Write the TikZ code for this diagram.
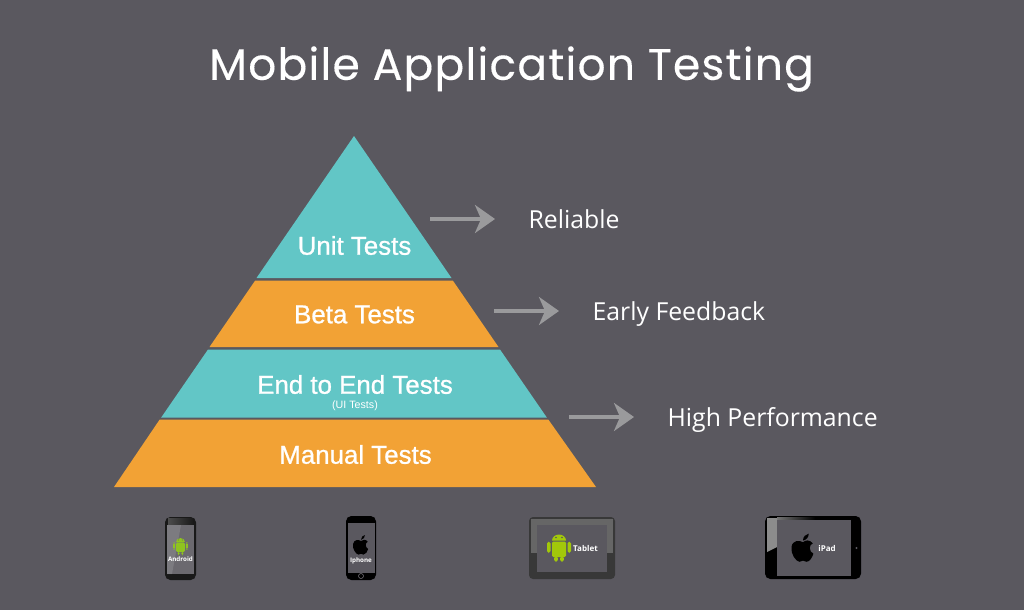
\documentclass[tikz,border=0pt]{standalone}
\usepackage{fontspec}
\setmainfont{Liberation Sans}
\newfontfamily\titlefont[LetterSpace=2.7,FakeBold=0.25]{Poppins}
\newfontfamily\notefont{Open Sans}
\newfontfamily\bandfont[FakeBold=0.9]{Liberation Sans}
\usetikzlibrary{positioning,arrows.meta}

\definecolor{slate}{HTML}{5A585F}
\definecolor{tealband}{HTML}{62C6C6}
\definecolor{orangeband}{HTML}{F2A235}
\definecolor{arrowgray}{HTML}{9A9A9C}
\definecolor{botgreen}{HTML}{8FC31F}
\definecolor{limegreen}{HTML}{A2C80A}

\begin{document}
\begin{tikzpicture}[
    x=0.75pt,
    y=-0.75pt,
    >={Stealth[length=15pt,width=21pt,inset=4.5pt]}
]


\tikzstyle{band}=[text=white, font=\bandfont\fontsize{19.4}{19.4}\selectfont, inner sep=0pt]
\tikzstyle{note}=[text=white, font=\notefont\fontsize{18.6}{18.6}\selectfont, inner sep=0pt, anchor=base west, yshift=-7.4pt]
\tikzstyle{gain}=[->, draw=arrowgray, line width=3.5pt]
\tikzstyle{devlabel}=[text=white, font=\notefont\bfseries\fontsize{4.7}{4.7}\selectfont, inner sep=0pt]
\tikzstyle{padlabel}=[text=white, font=\notefont\bfseries\fontsize{6}{6}\selectfont, inner sep=0pt]

\tikzset{
    androidbot/.pic={
        \fill[pic actions] (-7,-7.5) .. controls (-7,-11) and (-3.5,-13.5) .. (0,-13.5)
            .. controls (3.5,-13.5) and (7,-11) .. (7,-7.5) -- cycle;
        \fill[pic actions, rounded corners=1] (-7,-6.5) rectangle (7,9);
        \fill[pic actions, rounded corners=1.4] (-12,-6.5) rectangle (-8.5,5);
        \fill[pic actions, rounded corners=1.4] (8.5,-6.5) rectangle (12,5);
        \fill[pic actions, rounded corners=1.4] (-4.8,8) rectangle (-1.2,14);
        \fill[pic actions, rounded corners=1.4] (1.2,8) rectangle (4.8,14);
        \fill[slate] (-3,-10.5) circle (0.8) (3,-10.5) circle (0.8);
    },
    applelogo/.pic={
        \fill[black] (0,-5) .. controls (-3,-7) and (-9,-7) .. (-10,-1)
            .. controls (-11,5) and (-6,12) .. (-3,12)
            .. controls (-1.5,12) and (-1,11) .. (0,11)
            .. controls (1,11) and (1.5,12) .. (3,12)
            .. controls (6,12) and (8,8) .. (9,5)
            .. controls (5,3) and (5,-3) .. (8.5,-4)
            .. controls (6,-7.5) and (2,-7) .. (0,-5) -- cycle;
        \fill[black] (0,-6.5) .. controls (0,-10) and (2.5,-12) .. (5,-12.5)
            .. controls (5,-9.5) and (3,-7) .. (0,-6.5) -- cycle;
    }
}

\fill[slate] (0,0) rectangle (1024,610);
\useasboundingbox (0,0) rectangle (1024,610);

\node[text=white, font=\titlefont\fontsize{33}{33}\selectfont, inner sep=0pt] (title) at (511.5,69) {Mobile Application Testing};


\fill[tealband] (354,136) -- (451.5,278) -- (256.5,278) -- cycle;
\fill[orangeband] (452.8,280.5) -- (498.5,347) -- (209.5,347) -- (255.2,280.5) -- cycle;
\fill[tealband] (500,349.5) -- (546.8,417.5) -- (161.2,417.5) -- (208,349.5) -- cycle;
\fill[orangeband] (548.3,419.5) -- (596,487) -- (114,487) -- (159.7,419.5) -- cycle;

\node[band] (unit) at (354.5,245.5) {Unit Tests};
\node[band] (beta) at (354.5,314.5) {Beta Tests};
\node[band] (endtoend) at (355,384.5) {End to End Tests};
\node[text=white, font=\fontsize{8}{8}\selectfont, inner sep=0pt] (uitests) at (355,405.5) {(UI Tests)};
\node[band] (manual) at (355.5,454.5) {Manual Tests};


\coordinate (r1) at (430,219);
\coordinate (r2) at (495,219);
\coordinate (f1) at (494,311);
\coordinate (f2) at (559,311);
\coordinate (h1) at (569,417);
\coordinate (h2) at (634,417);

\draw[gain] (r1) -- (r2);
\draw[gain] (f1) -- (f2);
\draw[gain] (h1) -- (h2);

\node[right=25pt of r2, note] (reliable) {Reliable};
\node[right=25pt of f2, note] (feedback) {Early Feedback};
\node[right=25pt of h2, note] (performance) {High Performance};


\fill[black!90, rounded corners=4] (165,517) rectangle (196,580);
\shade[left color=black!70, right color=black!90] (168,518.5) rectangle (193,524.5);
\fill[slate!90!white] (167,525) rectangle (194,574);
\fill[white, opacity=.12] (167,525) -- (181,525) -- (172,574) -- (167,574) -- cycle;
\pic[fill=botgreen, scale=0.62] at (180.5,546.5) {androidbot};
\node[devlabel] (android) at (180.5,559) {Android};

\fill[black, rounded corners=4] (346,516) rectangle (376,580);
\fill[slate] (347.5,523) rectangle (374.5,573);
\draw[slate!80!white, line width=.4pt] (361,576) circle (2.5);
\pic[scale=0.8] at (361,545) {applelogo};
\node[devlabel] (iphone) at (361,560.5) {Iphone};

\fill[black!78, rounded corners=3] (529,517) rectangle (615,579);
\fill[black!60] (531,519) rectangle (613,553);
\fill[slate] (537,525) rectangle (607,572);
\pic[fill=limegreen, scale=1] at (559,548) {androidbot};
\node[padlabel] (tablet) at (585.5,548.5) {Tablet};

\fill[black, rounded corners=4] (765,516) rectangle (861,579);
\shade[left color=black!55, right color=black] (777,517.5) rectangle (815,520);
\fill[black!45] (767,518) -- (777,518) -- (777,547) -- (767,552) -- cycle;
\fill[slate] (777,520) rectangle (851,576);
\fill[slate] (856.5,548) circle (1.2);
\pic[scale=1.15] at (803,548) {applelogo};
\node[padlabel] (ipad) at (827,548.5) {iPad};

\end{tikzpicture}
\end{document}
